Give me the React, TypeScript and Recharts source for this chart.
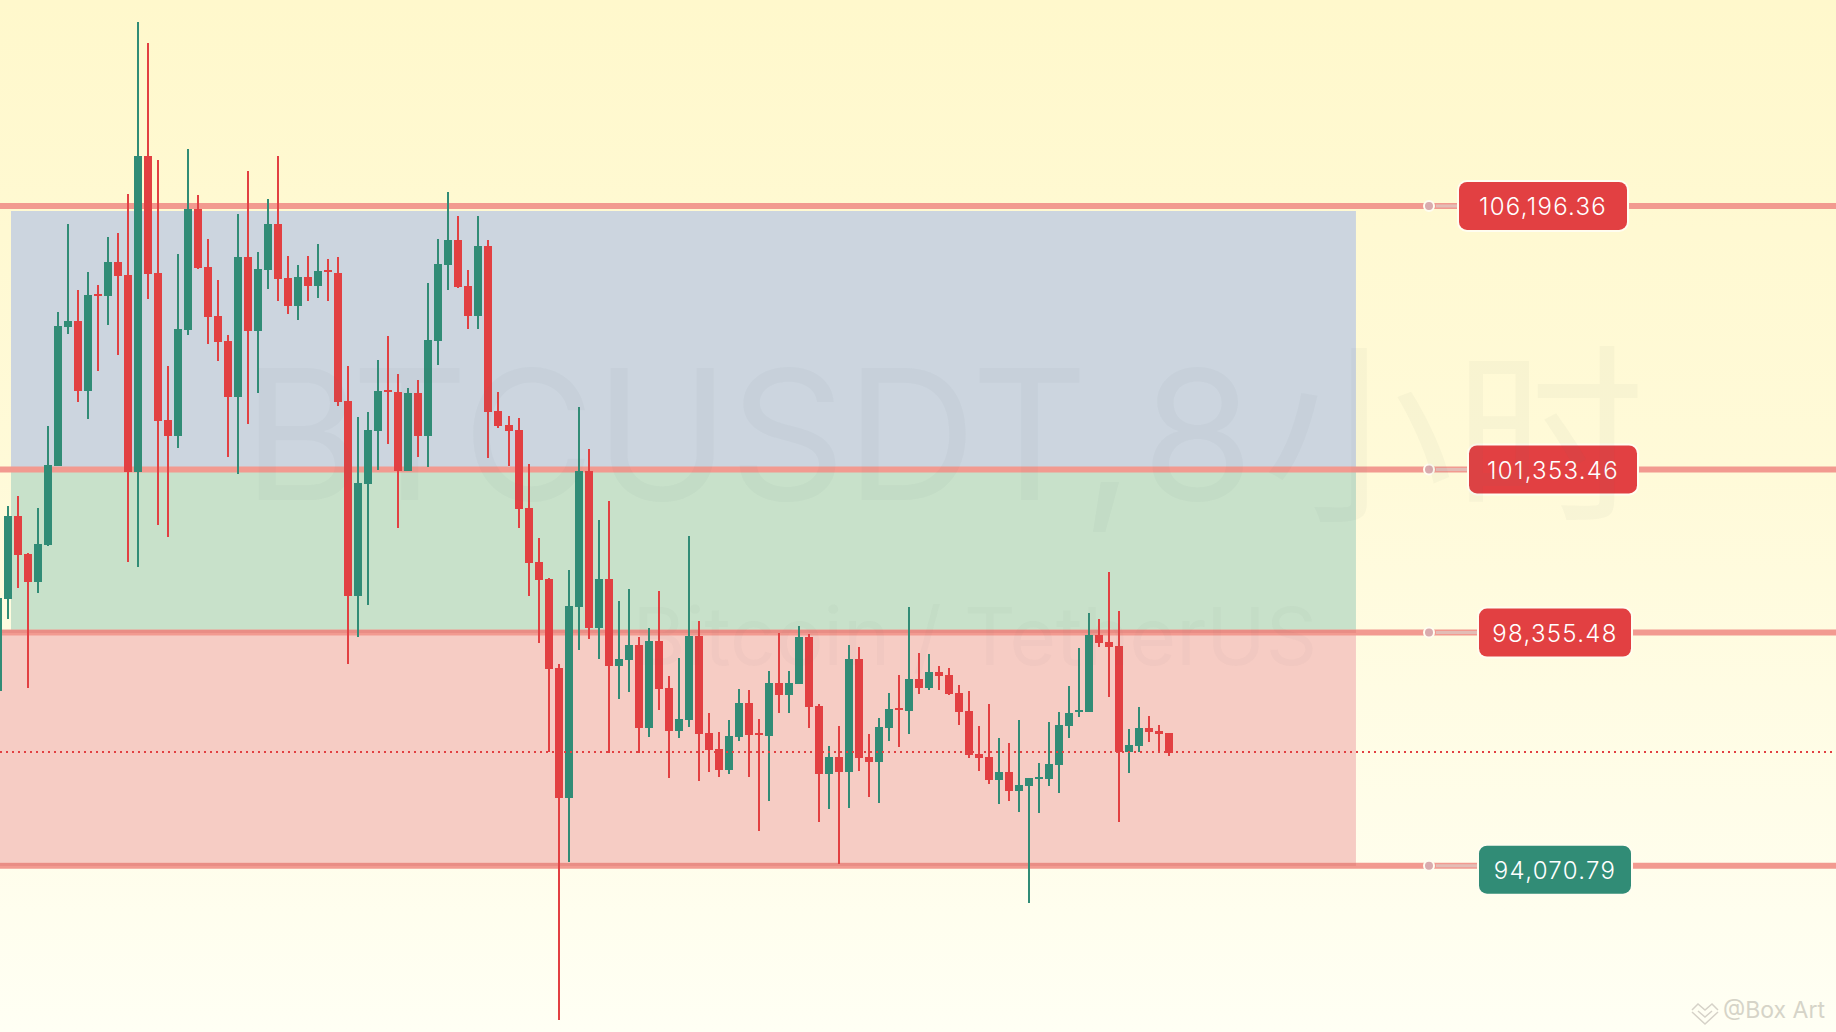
import React from 'react';
import { ComposedChart, Bar, XAxis, YAxis, ReferenceLine, ReferenceArea } from 'recharts';

// BTCUSDT 8h candles
const opens = [
  97281, 98971, 100497, 99800, 99283, 99964, 101416, 103976, 104083, 102794, 104575, 104542, 105166, 104928, 101309, 107118, 104961, 102261, 101966, 103919,
  106142, 105075, 104173, 103713, 102688, 105256, 103902, 105018, 105863, 104870, 104362, 104895, 104723, 105018, 104960, 102614, 99028, 101088, 102064, 102811,
  102778, 101326, 102761, 101966, 103713, 105108, 105568, 104722, 104173, 105461, 102425, 102171, 102080, 100645, 99652, 99340, 97704, 95318, 98822, 101326,
  98437, 99341, 97741, 97852, 98126, 96600, 98200, 97333, 96548, 96748, 98289, 96511, 96215, 95829, 96437, 97059, 96511, 96452, 97430, 97207,
  97407, 98274, 97007, 95755, 96066, 95793, 97870, 96068, 95976, 96601, 96969, 96914, 97502, 97337, 97631, 97576, 97245, 96914, 96124, 96068,
  95646, 95793, 95443, 95535, 95664, 95664, 95921, 96638, 96895, 96895, 98311, 98182, 98109, 96160, 96271, 96601, 96546, 96509,
];
const highs = [
  98987, 100686, 100866, 99816, 100645, 102154, 104247, 105863, 104649, 104985, 104747, 105625, 105699, 106413, 109580, 109194, 107045, 103254, 105313, 107242,
  106396, 105592, 104837, 103828, 106052, 106839, 105354, 106323, 107118, 105281, 105108, 105281, 105494, 105223, 105256, 103254, 102318, 102409, 103369, 103804,
  103106, 102852, 102999, 104780, 105592, 106454, 106011, 105018, 106011, 105568, 102778, 102335, 102302, 101457, 100095, 99356, 97778, 99504, 102504, 101726,
  100422, 100771, 98933, 99156, 98274, 98437, 99119, 97556, 97889, 100134, 98570, 96874, 96526, 96748, 97318, 97304, 96770, 97652, 98348, 97652,
  98474, 98326, 97044, 96274, 96637, 98127, 98090, 96491, 96785, 97245, 97576, 98825, 97980, 97962, 97741, 97704, 97392, 97281, 96638, 97043,
  96418, 96326, 96748, 95682, 95958, 96712, 96895, 97373, 98072, 98715, 98605, 99469, 98752, 96583, 96987, 96822, 96657, 96509,
];
const lows = [
  97281, 98602, 99176, 97338, 99086, 99947, 101416, 103845, 102597, 102278, 103164, 104009, 103459, 99652, 99562, 104485, 100333, 100111, 101744, 103828,
  105034, 103656, 103344, 101580, 101268, 102187, 102762, 104673, 104452, 104214, 104099, 104452, 104501, 104452, 102524, 97781, 98273, 98864, 101342, 101818,
  100275, 101326, 101580, 101399, 103270, 104649, 104690, 103935, 103935, 101564, 102113, 101416, 100275, 99028, 98167, 96165, 91237, 94140, 98037, 98237,
  97867, 96148, 97133, 97267, 96148, 96437, 96933, 95681, 96415, 96622, 95629, 95792, 95704, 95755, 96363, 95704, 94711, 95259, 96874, 96874,
  97407, 96600, 94874, 95111, 94103, 95131, 95811, 95333, 95223, 96362, 96252, 96491, 97226, 97300, 97300, 97208, 96657, 96050, 95811, 95572,
  95204, 95260, 95057, 93385, 95039, 95535, 95407, 96418, 96804, 96895, 98090, 97171, 94874, 95774, 96160, 96344, 96160, 96087,
];
const closes = [
  98987, 100497, 99783, 99283, 99980, 101432, 103992, 104083, 102794, 104558, 104542, 105166, 104911, 101309, 107118, 104944, 102245, 101966, 103935, 106142,
  105059, 104156, 103697, 102688, 105256, 103902, 105034, 105863, 104854, 104362, 104895, 104723, 105002, 104985, 102597, 99028, 101104, 102080, 102794, 102778,
  101326, 102761, 101966, 103730, 105133, 105568, 104706, 104173, 105461, 102409, 102154, 102064, 100628, 99635, 99324, 97683, 95318, 98844, 101326, 98437,
  99341, 97741, 97867, 98126, 96600, 98200, 97318, 96548, 96770, 98289, 96489, 96200, 95829, 96452, 97059, 96474, 96474, 97430, 97207, 97430,
  98274, 96985, 95755, 96066, 95792, 97870, 96050, 95976, 96620, 96951, 96932, 97502, 97337, 97631, 97557, 97226, 96895, 96105, 96050, 95646,
  95793, 95443, 95554, 95682, 95701, 95940, 96657, 96877, 96932, 98311, 98164, 98090, 96160, 96289, 96601, 96528, 96491, 96142,
];

const levels = [106196.36, 101353.46, 98355.48, 94070.79];
const levelLabels = ['106,196.36', '101,353.46', '98,355.48', '94,070.79'];
const lastPrice = 96161;

const RED = '#E24042';
const GREEN = '#318C76';
const LEVEL_LINE = '#F29A90';

const candles = opens.map((open, i) => ({
  index: i,
  open,
  close: closes[i],
  wick: [lows[i], highs[i]],
  body: [Math.min(open, closes[i]), Math.max(open, closes[i])],
}));

const CandlePart = (props: any) => {
  const top = Math.round(props.y);
  const h = Math.max(2, Math.round(props.height));
  const color = props.payload.close >= props.payload.open ? GREEN : RED;
  return <rect x={Math.round(props.x)} y={top} width={props.width} height={h} fill={color} />;
};

const PriceTag = (props: any) => {
  const { viewBox, text, left, w, color, dy } = props;
  const cy = viewBox.y + dy;
  return (
    <g>
      <line x1={1436} x2={left - 2} y1={viewBox.y} y2={viewBox.y} stroke="#E3BDB6" strokeWidth={3} />
      <circle cx={1429} cy={viewBox.y} r={5} fill="#D9ABAE" stroke="#FFFDF0" strokeWidth={2} />
      <rect x={left - 2} y={cy - 26} width={w + 4} height={52} rx={10} fill="#FFFDF0" />
      <rect x={left} y={cy - 24} width={w} height={48} rx={8} fill={color} />
      <text
        x={left + w / 2}
        y={cy + 9.5}
        textAnchor="middle"
        fill="#fff"
        fontFamily="Inter, sans-serif"
        fontSize={24}
        fontWeight={300}
        letterSpacing={1.3}
      >
        {text}
      </text>
    </g>
  );
};

export default function App() {
  return (
    <div
      style={{
        position: 'absolute',
        left: 0,
        top: 0,
        width: 1836,
        height: 1032,
        background: 'linear-gradient(180deg, #FFF8CC 0%, #FFFAD8 45%, #FFFFF4 100%)',
      }}
    >
      <ComposedChart width={1836} height={1032} data={candles} margin={{ top: 0, right: 0, bottom: 0, left: 0 }}>
        <XAxis xAxisId="wick" dataKey="index" type="number" domain={[0.2, 183.617]} allowDataOverflow hide />
        <XAxis xAxisId="body" dataKey="index" type="number" domain={[0.2, 183.617]} allowDataOverflow hide />
        <YAxis domain={[91014, 109982]} allowDataOverflow hide />

        <ReferenceArea xAxisId="wick" x1={1.3} x2={135.66} y1={101353} y2={106104} fill="#CCD5DF" fillOpacity={1} stroke="none" zIndex={10} />
        <ReferenceArea xAxisId="wick" x1={1.3} x2={135.66} y1={98355} y2={101353} fill="#C8E1CA" fillOpacity={1} stroke="none" zIndex={10} />
        <ReferenceArea xAxisId="wick" x1={0.2} x2={135.66} y1={94071} y2={98355} fill="#F6CCC4" fillOpacity={1} stroke="none" zIndex={10} />

        {levels.map((level, i) => (
          <ReferenceLine
            key={level}
            xAxisId="wick"
            y={level}
            stroke={LEVEL_LINE}
            strokeWidth={6}
            zIndex={20}
            label={
              <PriceTag
                text={levelLabels[i]}
                left={[1459, 1469, 1479, 1479][i]}
                w={[168, 168, 152, 152][i]}
                color={i === 3 ? GREEN : RED}
                dy={i === 3 ? 4 : 0}
              />
            }
          />
        ))}
        {levels.slice(2).map((level) => (
          <ReferenceLine
            key={level}
            xAxisId="wick"
            segment={[
              { x: 0.2, y: level + 20 },
              { x: 135.66, y: level + 20 },
            ]}
            stroke="#E98D85"
            strokeWidth={3}
            zIndex={30}
          />
        ))}

        <Bar xAxisId="wick" dataKey="wick" barSize={2} shape={CandlePart} isAnimationActive={false} />
        <Bar xAxisId="body" dataKey="body" barSize={8} shape={CandlePart} isAnimationActive={false} />

        <ReferenceLine xAxisId="wick" y={lastPrice} stroke={RED} strokeWidth={2} strokeDasharray="2 4" />
      </ComposedChart>

      <svg width={1836} height={1032} style={{ position: 'absolute', left: 0, top: 0, pointerEvents: 'none' }}>
        <text x={243} y={500} fontFamily="Inter, 'Noto Sans CJK SC', sans-serif" fontSize={181} fill="rgba(100,105,125,0.045)">
          BTCUSDT,
          <tspan dx={12}>8</tspan>
          <tspan dx={9} fontSize={191} dy={6}>小时</tspan>
        </text>
        <text x={975} y={665} textAnchor="middle" fontFamily="Inter, sans-serif" fontSize={80} fill="rgba(100,105,125,0.035)">
          Bitcoin / TetherUS
        </text>
        <polyline points="1692,1010 1698,1004 1705,1010 1712,1004 1718,1010" fill="none" stroke="#D6D2C8" strokeWidth={1.5} />
        <polyline points="1698,1011 1705,1017 1712,1011" fill="none" stroke="#D6D2C8" strokeWidth={1.5} />
        <polyline points="1692,1012 1705,1024 1718,1012" fill="none" stroke="#D6D2C8" strokeWidth={1.5} />
        <text x={1723} y={1018} fontFamily="Inter, sans-serif" fontSize={23} fill="#D6D4C8">
          @Box Art
        </text>
      </svg>
    </div>
  );
}
